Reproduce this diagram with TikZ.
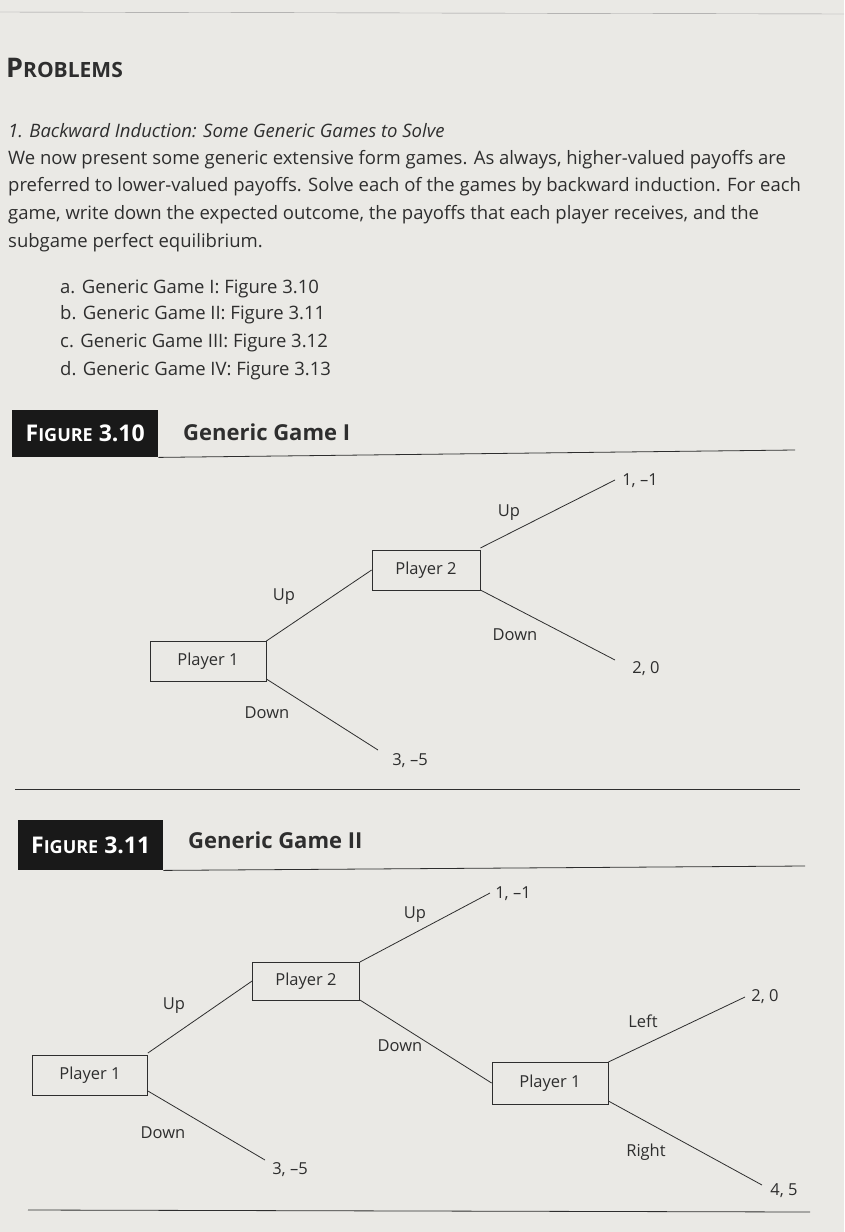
\documentclass[tikz,border=0pt]{standalone}
\usepackage{fontspec}
\setmainfont{Open Sans}
\definecolor{paper}{HTML}{EAE9E5}
\definecolor{ink}{HTML}{2E2E2E}
\begin{document}
\begin{tikzpicture}[x=1pt,y=-1pt,
  txt/.style={anchor=west,inner sep=0,text=ink,font=\fontsize{18.5}{22}\selectfont},
  lbl/.style={inner sep=0,text=ink,font=\fontsize{16.5}{19}\selectfont},
  pbox/.style={draw=ink,line width=0.8pt,minimum height=40pt,text=ink,font=\fontsize{16.5}{19}\selectfont},
  br/.style={draw=ink,line width=0.8pt},
  rule/.style={draw=ink,line width=0.8pt},
  fighead/.style={fill=black!90,text=white,inner sep=0,anchor=north west,font=\bfseries\fontsize{23}{25}\selectfont}]
\fill[paper] (0,0) rectangle (844,1232);
\useasboundingbox (0,0) rectangle (844,1232);
\draw[black!40] (0,12) -- (844,14);
\node[txt,anchor=west,font=\bfseries\fontsize{27}{30}\selectfont] (prob) at (6,68) {P\fontsize{21}{24}\selectfont ROBLEMS};
\node[txt,font=\itshape\fontsize{18.5}{22}\selectfont] (t1) at (8,131) {1. Backward Induction: Some Generic Games to Solve};
\node[txt] (p1) at (8,160) {We now present some generic extensive form games. As always, higher-valued payoffs are};
\node[txt] (p2) at (8,187) {preferred to lower-valued payoffs. Solve each of the games by backward induction. For each};
\node[txt] (p3) at (8,215) {game, write down the expected outcome, the payoffs that each player receives, and the};
\node[txt] (p4) at (8,243) {subgame perfect equilibrium.};
\node[txt] (la) at (60,289) {a. Generic Game I: Figure 3.10};
\node[txt] (lb) at (60,315) {b. Generic Game II: Figure 3.11};
\node[txt] (lc) at (60,343) {c. Generic Game III: Figure 3.12};
\node[txt] (ld) at (60,371) {d. Generic Game IV: Figure 3.13};
% Figure 3.10
\node[fighead,minimum width=146pt,minimum height=47pt] (f1) at (12,410) {F{\fontsize{18}{20}\selectfont IGURE} 3.10};
\node[txt,font=\bfseries\fontsize{22}{25}\selectfont] (g1) at (183,432) {Generic Game I};
\draw[rule] (f1.south east) -- (795,450);
\node[pbox,minimum width=116pt] (a1) at (208,661) {Player 1};
\node[pbox,minimum width=108pt] (a2) at (426,570) {Player 2};
\coordinate (a35) at (378,750);
\coordinate (a11) at (615,480);
\coordinate (a20) at (615,660);
\draw[br] (a1.east) ++(0,-20) -- (a2.west);
\draw[br] (a1.east) ++(0,18) -- (a35);
\draw[br] (a2.east) ++(0,-22) -- (a11);
\draw[br] (a2.east) ++(0,20) -- (a20);
\node[lbl] at (284,597) {Up};
\node[lbl] at (267,713) {Down};
\node[lbl] at (410,761) {3, --5};
\node[lbl] at (509,513) {Up};
\node[lbl] at (515,635) {Down};
\node[lbl] at (640,481) {1, --1};
\node[lbl] at (646,669) {2, 0};
\draw[rule] (15,789) -- (800,789);
% Figure 3.11
\node[fighead,minimum width=145pt,minimum height=50pt] (f2) at (18,820) {F{\fontsize{18}{20}\selectfont IGURE} 3.11};
\node[txt,font=\bfseries\fontsize{22}{25}\selectfont] (g2) at (188,840) {Generic Game II};
\draw[rule] (f2.south east) -- (805,866);
\node[pbox,minimum width=115pt] (b1) at (90,1075) {Player 1};
\node[pbox,minimum width=107pt,minimum height=38pt] (b2) at (306,981) {Player 2};
\node[pbox,minimum width=116pt,minimum height=42pt] (b3) at (550,1083) {Player 1};
\coordinate (b35) at (265,1160);
\coordinate (b11) at (490,893);
\coordinate (b20) at (745,997);
\coordinate (b45) at (762,1185);
\draw[br] (b1.east) ++(0,-22) -- (b2.west);
\draw[br] (b1.east) ++(0,16) -- (b35);
\draw[br] (b2.east) ++(0,-19) -- (b11);
\draw[br] (b2.east) ++(0,19) -- (b3.west);
\draw[br] (b3.east) ++(0,-21) -- (b20);
\draw[br] (b3.east) ++(0,18) -- (b45);
\node[lbl] at (174,1006) {Up};
\node[lbl] at (163,1133) {Down};
\node[lbl] at (290,1170) {3, --5};
\node[lbl] at (415,915) {Up};
\node[lbl] at (400,1046) {Down};
\node[lbl] at (513,894) {1, --1};
\node[lbl] at (643,1021) {Left};
\node[lbl] at (646,1152) {Right};
\node[lbl] at (765,997) {2, 0};
\node[lbl] at (784,1191) {4, 5};
\draw[rule] (28,1210) -- (810,1212);
\end{tikzpicture}
\end{document}
